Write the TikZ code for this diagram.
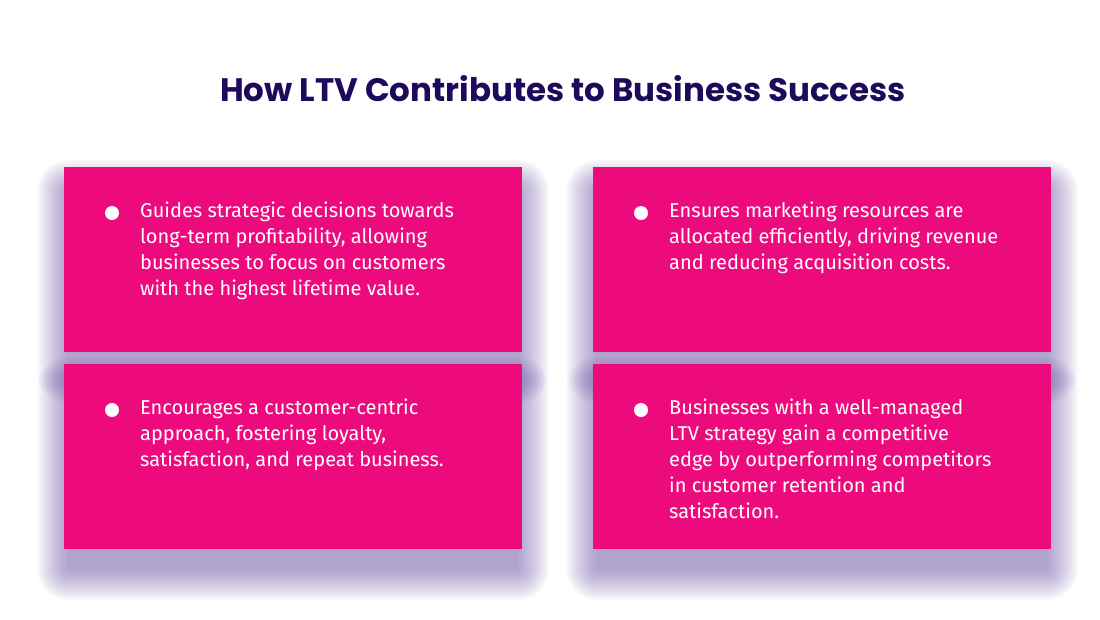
\documentclass[tikz,border=0pt]{standalone}
\usepackage{fontspec}
\setmainfont{Fira Sans}
\newfontfamily\titlefont{Poppins}
\definecolor{mag}{HTML}{EC0A7C}
\definecolor{navy}{HTML}{1E0A5A}
\definecolor{shad}{HTML}{4A2F90}
\tikzset{
 card/.style={fill=mag,draw=none,minimum width=458pt,minimum height=185pt,anchor=north west,inner sep=0pt},
 dot/.style={circle,fill=white,minimum size=14pt,inner sep=0pt},
 txt/.style={anchor=north west,align=left,text=white,inner sep=0pt,font=\fontsize{20pt}{26pt}\selectfont},
 shadowlayer/.style={fill=shad,draw=none,fill opacity=0.035}
}
\newcommand\cardshadow[2]{%
 \foreach \r in {1,3,...,31}{%
  \fill[shadowlayer,rounded corners=\r pt] (#1-\r+4,#2+24-\r) rectangle (#1+458+\r-4,#2+185+20+\r);
 }}
\begin{document}
\begin{tikzpicture}[x=1pt,y=-1pt]
\useasboundingbox (0,0) rectangle (1100,619);
\cardshadow{64}{167}
\cardshadow{593}{167}
\cardshadow{64}{364}
\cardshadow{593}{364}
\node[font=\titlefont\bfseries\fontsize{32.5pt}{38pt}\selectfont,text=navy] (title) at (563,89) {How LTV Contributes to Business Success};
\node[card] (c1) at (64,167) {};
\node[card] (c2) at (593,167) {};
\node[card] (c3) at (64,364) {};
\node[card] (c4) at (593,364) {};
\node[dot] (d1) at (112,213) {};
\node[dot] (d2) at (641,213) {};
\node[dot] (d3) at (112,410) {};
\node[dot] (d4) at (641,410) {};
\node[txt] (t1) at (140,202) {Guides strategic decisions towards\\long-term profitability, allowing\\businesses to focus on customers\\with the highest lifetime value.};
\node[txt] (t2) at (669,202) {Ensures marketing resources are\\allocated efficiently, driving revenue\\and reducing acquisition costs.};
\node[txt] (t3) at (140,399) {Encourages a customer-centric\\approach, fostering loyalty,\\satisfaction, and repeat business.};
\node[txt] (t4) at (669,399) {Businesses with a well-managed\\LTV strategy gain a competitive\\edge by outperforming competitors\\in customer retention and\\satisfaction.};
\end{tikzpicture}
\end{document}
